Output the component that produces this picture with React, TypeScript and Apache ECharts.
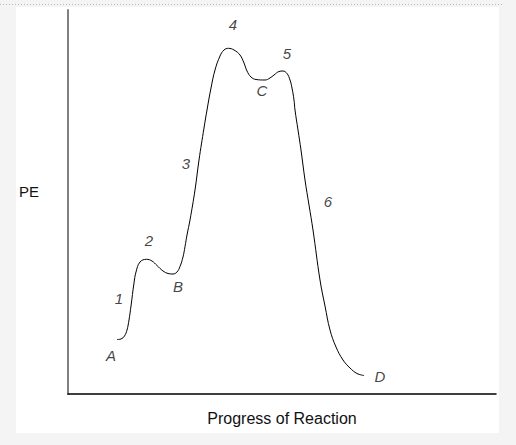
import React, { useEffect, useRef } from "react";
import * as echarts from "echarts";

// Curve points (progress, PE) in chart units
const progress = [49, 53, 56.5, 59, 61, 63, 66, 68, 72, 78.5, 84, 89, 95, 100, 105, 109, 112, 115, 117, 119, 122, 127, 131, 136, 139, 143, 147, 152, 156, 160.5, 166, 172, 176, 179, 183, 188, 197, 202, 206, 211, 215, 219, 222, 224, 226, 227, 230, 233, 237, 241, 245, 252, 257, 262, 268, 275, 282, 289, 296];
const energy = [54.5, 55, 58, 64, 74, 88, 111, 122, 132, 134.7, 133, 128.5, 123, 120.5, 120, 122, 127.5, 137, 147.3, 159, 174, 204, 234, 266, 284, 306, 324, 338, 344, 345.7, 344, 339, 331, 323, 317, 314.5, 314, 316, 319, 322.5, 323, 320.5, 314, 306, 294, 284, 264, 244, 214, 189, 164, 114, 88, 64, 47, 34, 26, 20.5, 18.5];

// Stage labels
const labelText = ["4", "5", "C", "3", "6", "2", "B", "1", "A", "D"];
const labelX = [165, 219, 194, 118, 260, 81, 110, 51, 43, 312];
const labelY = [370, 341, 304, 231, 193, 154, 108, 96, 39, 18];

const xTitle = "Progress of Reaction";
const yTitle = "PE";

export default function App() {
  const ref = useRef<HTMLDivElement>(null);
  useEffect(() => {
    if (!ref.current) return;
    const chart = echarts.init(ref.current, undefined, { renderer: "svg" });
    const font = "'Liberation Sans', Arial, sans-serif";
    chart.setOption({
      animation: false,
      backgroundColor: "#f4f4f4",
      graphic: [
        { type: "rect", z: -10, shape: { x: 16, y: 7, width: 483, height: 426 }, style: { fill: "#ffffff" } },
        { type: "line", z: -10, shape: { x1: 0, y1: 4.5, x2: 504, y2: 4.5 }, style: { stroke: "#bbbbbb", lineWidth: 1, lineDash: [1, 2] } },
        { type: "text", left: 19, top: 184, style: { text: yTitle, fontSize: 15, fontFamily: font, fill: "#111" } },
      ],
      grid: { left: 68, right: 20, top: 10, bottom: 51 },
      xAxis: {
        type: "value",
        min: 0,
        max: 428,
        name: xTitle,
        nameLocation: "middle",
        nameGap: 16,
        nameTextStyle: { fontSize: 16, fontFamily: font, color: "#111" },
        axisLine: { show: true, onZero: false, lineStyle: { color: "#000", width: 1.5 } },
        axisTick: { show: false },
        axisLabel: { show: false },
        splitLine: { show: false },
      },
      yAxis: {
        type: "value",
        min: 0,
        max: 384,
        axisLine: { show: true, onZero: false, lineStyle: { color: "#808080", width: 2 } },
        axisTick: { show: false },
        axisLabel: { show: false },
        splitLine: { show: false },
      },
      series: [
        {
          type: "line",
          data: progress.map((x, i) => [x, energy[i]]),
          smooth: 0.4,
          showSymbol: false,
          lineStyle: { color: "#000", width: 1 },
        },
        {
          type: "scatter",
          symbolSize: 0,
          data: labelText.map((t, i) => ({ value: [labelX[i], labelY[i]], name: t })),
          label: {
            show: true,
            position: "inside",
            formatter: (p: any) => p.name,
            fontSize: 15,
            fontStyle: "italic",
            fontFamily: font,
            color: "#111",
          },
        },
      ],
    });
    return () => chart.dispose();
  }, []);
  return <div ref={ref} style={{ position: "absolute", left: 0, top: 0, width: 516, height: 445 }} />;
}
